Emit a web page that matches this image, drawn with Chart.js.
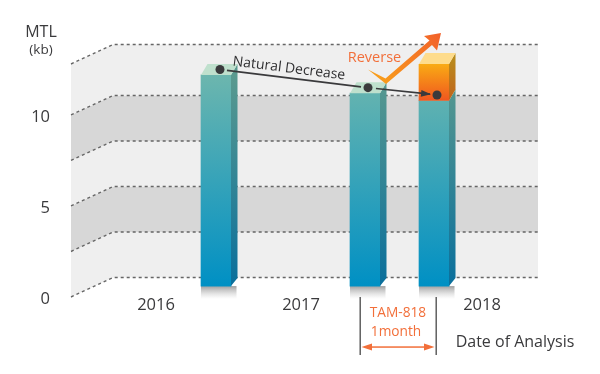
<!DOCTYPE html>
<html>
<head>
<meta charset="utf-8">
<style>
  html, body { margin: 0; padding: 0; background: #fff; }
  canvas { display: block; }
</style>
<script src="https://cdn.jsdelivr.net/npm/chart.js@4/dist/chart.umd.min.js"></script>
</head>
<body>
<canvas id="diagram" width="600" height="374"></canvas>
<script>
// sampling positions along the (schematic) date axis
const barDates = [14.5, 29.4, 36.3];
const mtlValues = [11.6, 10.6, 10.2];
const reverseDate = [36.3];
const reverseRange = [[10.2, 12.2]];
const dotDates = [14.9, 29.7, 36.6];
const dotValues = [11.9, 10.9, 10.5];
const yearDates = [8.5, 23, 41.1];
const yearLabels = ['2016', '2017', '2018'];
const yTicks = [0, 5, 10];
const wallLevels = [0, 2.5, 5, 7.5, 10, 12.8];
const tamDates = [28.9, 36.5];

const FONT = '"Open Sans", "Noto Sans", sans-serif';
const INK = '#3a3a3c';
const ORANGE = '#f26f3a';
const WALL_DX = 42, WALL_DY = 19.5;
const BAR_DX = 6.5, BAR_DY_TOP = 11, BAR_DY_BOTTOM = 8;

function label(ctx, text, x, y, size, color, align, angle) {
  ctx.save();
  ctx.translate(x, y);
  if (angle) ctx.rotate(angle);
  ctx.font = size + 'px ' + FONT;
  ctx.fillStyle = color;
  ctx.textAlign = align || 'center';
  ctx.textBaseline = 'middle';
  ctx.fillText(text, 0, 0);
  ctx.restore();
}

function poly(ctx, pts, fill) {
  ctx.beginPath();
  pts.forEach((p, i) => i ? ctx.lineTo(p[0], p[1]) : ctx.moveTo(p[0], p[1]));
  ctx.closePath();
  ctx.fillStyle = fill;
  ctx.fill();
}

function vGradient(ctx, y0, y1, c0, c1) {
  const g = ctx.createLinearGradient(0, y0, 0, y1);
  g.addColorStop(0, c0);
  g.addColorStop(1, c1);
  return g;
}

// the bent back wall with its bands and dashed levels
const wallPlugin = {
  id: 'wall',
  beforeDatasetsDraw(chart) {
    const { ctx, chartArea, scales } = chart;
    const l = chartArea.left, r = chartArea.right;
    const y = v => scales.y.getPixelForValue(v);
    wallLevels.slice(1).forEach((v, i) => {
      const lo = wallLevels[i];
      poly(ctx, [
        [l, y(lo)], [l + WALL_DX, y(lo) - WALL_DY], [r, y(lo) - WALL_DY],
        [r, y(v) - WALL_DY], [l + WALL_DX, y(v) - WALL_DY], [l, y(v)]
      ], i % 2 ? '#d7d7d7' : '#efefef');
    });
    ctx.save();
    ctx.strokeStyle = '#666';
    ctx.lineWidth = 1.4;
    ctx.setLineDash([3, 3]);
    wallLevels.forEach(v => {
      ctx.beginPath();
      ctx.moveTo(l, y(v));
      ctx.lineTo(l + WALL_DX, y(v) - WALL_DY);
      ctx.lineTo(r, y(v) - WALL_DY);
      ctx.stroke();
    });
    ctx.restore();
  },
  // soft shadow under the bars
  beforeDatasetDraw(chart, args) {
    if (args.index !== 0) return;
    const { ctx } = chart;
    args.meta.data.forEach(bar => {
      const left = bar.x - bar.width / 2;
      ctx.fillStyle = vGradient(ctx, bar.base, bar.base + 13, 'rgba(80,80,80,0.55)', 'rgba(170,170,170,0)');
      ctx.fillRect(left, bar.base, bar.width + BAR_DX - 1, 13);
    });
  },
  // side and top faces of each bar
  afterDatasetDraw(chart, args) {
    if (args.meta.type !== 'bar') return;
    const { ctx } = chart;
    const isTeal = args.index === 0;
    args.meta.data.forEach(bar => {
      const x1 = bar.x + bar.width / 2, x0 = bar.x - bar.width / 2;
      const side = isTeal
        ? vGradient(ctx, 75, 286, '#5a9a8f', '#0a6f9c')
        : vGradient(ctx, 54, 100, '#b98f1c', '#c0641c');
      const dyBase = isTeal ? BAR_DY_BOTTOM : BAR_DY_TOP;
      poly(ctx, [
        [x1, bar.y], [x1 + BAR_DX, bar.y - BAR_DY_TOP],
        [x1 + BAR_DX, bar.base - dyBase], [x1, bar.base]
      ], side);
      poly(ctx, [
        [x0, bar.y], [x0 + BAR_DX, bar.y - BAR_DY_TOP],
        [x1 + BAR_DX, bar.y - BAR_DY_TOP], [x1, bar.y]
      ], isTeal ? '#bfe0cd' : '#fedc8c');
    });
  },
  afterDatasetsDraw(chart) {
    const { ctx, scales } = chart;
    const dots = chart.getDatasetMeta(2).data;

    // natural decrease line, stops short of the dots
    ctx.save();
    ctx.strokeStyle = INK;
    ctx.lineWidth = 1.7;
    const seg = (a, b, startGap, endGap) => {
      const len = Math.hypot(b.x - a.x, b.y - a.y);
      const ux = (b.x - a.x) / len, uy = (b.y - a.y) / len;
      ctx.beginPath();
      ctx.moveTo(a.x + ux * startGap, a.y + uy * startGap);
      ctx.lineTo(b.x - ux * endGap, b.y - uy * endGap);
      ctx.stroke();
      return [b.x - ux * endGap, b.y - uy * endGap, ux, uy];
    };
    seg(dots[0], dots[1], 7, 7);
    const [tx, ty, ux, uy] = seg(dots[1], dots[2], 8, 7);
    poly(ctx, [
      [tx + ux, ty + uy],
      [tx - ux * 9 - uy * 3.4, ty - uy * 9 + ux * 3.4],
      [tx - ux * 9 + uy * 3.4, ty - uy * 9 - ux * 3.4]
    ], INK);
    ctx.restore();

    // reverse arrow
    const grad = ctx.createLinearGradient(370, 85, 441, 33);
    grad.addColorStop(0, '#f9a51a');
    grad.addColorStop(1, '#f2602a');
    poly(ctx, [
      [368, 69.5], [385.5, 78.5], [429.5, 40.5], [424, 36], [441, 33],
      [437, 50.5], [432, 45], [386, 84]
    ], grad);
    label(ctx, 'Reverse', 374.5, 57.5, 14.5, ORANGE);

    label(ctx, 'Natural Decrease', 289, 68.5, 14, '#2f2f31', 'center', 0.125);

    // axis captions
    label(ctx, 'MTL', 41, 32, 16, INK);
    label(ctx, '(kb)', 41, 50, 13.5, INK);
    label(ctx, 'Date of Analysis', 515, 342, 16, INK);

    // treatment window
    const xa = scales.x.getPixelForValue(tamDates[0]);
    const xb = scales.x.getPixelForValue(tamDates[1]);
    ctx.fillStyle = '#555';
    ctx.fillRect(xa - 0.5, 297, 1.4, 58);
    ctx.fillRect(xb - 0.5, 297, 1.4, 58);
    label(ctx, 'TAM-818', (xa + xb) / 2, 313, 13.7, ORANGE);
    label(ctx, '1month', (xa + xb) / 2 - 2, 332, 13.7, ORANGE);
    ctx.fillStyle = ORANGE;
    ctx.fillRect(xa + 6, 346.3, xb - xa - 12, 1.5);
    poly(ctx, [[xa + 1.5, 347], [xa + 12, 343.5], [xa + 12, 350.5]], ORANGE);
    poly(ctx, [[xb - 1.5, 347], [xb - 12, 343.5], [xb - 12, 350.5]], ORANGE);
  }
};

const ctx = document.getElementById('diagram').getContext('2d');
const tealGrad = vGradient(ctx, 75, 286, '#6cb6ae', '#0090c4');
const orangeGrad = vGradient(ctx, 64, 100, '#f9ab14', '#f0581f');

new Chart(ctx, {
  data: {
    datasets: [
      {
        type: 'bar',
        yAxisID: 'yBar',
        data: barDates.map((d, i) => ({ x: d, y: [0, mtlValues[i]] })),
        backgroundColor: tealGrad,
        barThickness: 30,
        grouped: false,
        order: 3
      },
      {
        type: 'bar',
        yAxisID: 'yBar',
        data: reverseDate.map((d, i) => ({ x: d, y: reverseRange[i] })),
        backgroundColor: orangeGrad,
        barThickness: 30,
        grouped: false,
        order: 2
      },
      {
        type: 'line',
        yAxisID: 'yBar',
        data: dotDates.map((d, i) => ({ x: d, y: dotValues[i] })),
        showLine: false,
        pointRadius: 4.5,
        pointBackgroundColor: INK,
        pointBorderWidth: 0,
        order: 1
      }
    ]
  },
  options: {
    responsive: false,
    animation: false,
    events: [],
    layout: { padding: { top: 64, right: 62, left: 0, bottom: 0 } },
    plugins: { legend: { display: false }, tooltip: { enabled: false } },
    scales: {
      x: {
        type: 'linear',
        min: 0,
        max: 46.7,
        offset: false,
        grid: { display: false },
        border: { display: false },
        afterBuildTicks: s => { s.ticks = yearDates.map(v => ({ value: v })); },
        afterFit: s => { s.height = 77; },
        ticks: {
          autoSkip: false,
          maxRotation: 0,
          padding: -10,
          color: INK,
          font: { family: FONT, size: 16.5 },
          callback: v => yearLabels[yearDates.indexOf(v)]
        }
      },
      y: {
        min: 0,
        max: 12.8,
        position: 'left',
        grid: { display: false, drawTicks: false },
        border: { display: false },
        afterBuildTicks: s => { s.ticks = yTicks.map(v => ({ value: v })); },
        afterFit: s => { s.width = 71; },
        ticks: {
          padding: 21,
          labelOffset: 2.5,
          color: INK,
          font: { family: FONT, size: 16.5 }
        }
      },
      yBar: {
        display: false,
        min: -0.6,
        max: 12.2
      }
    }
  },
  plugins: [wallPlugin]
});
</script>
</body>
</html>
